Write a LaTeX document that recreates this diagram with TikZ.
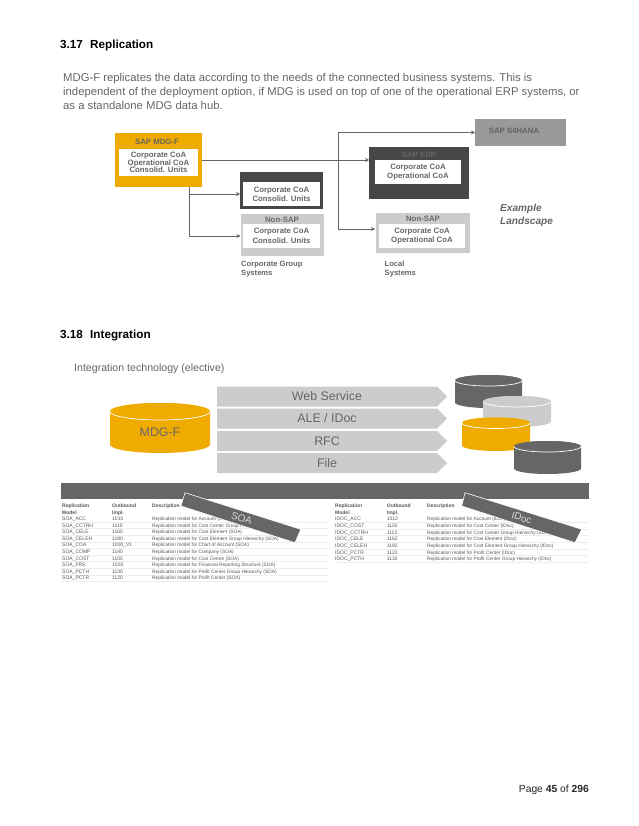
\documentclass[tikz,border=0pt]{standalone}
\usepackage{fontspec}
\setmainfont{Liberation Sans}
\usetikzlibrary{arrows.meta}
\definecolor{sapo}{HTML}{F0AB00}
\definecolor{txt}{HTML}{666666}
\definecolor{dk}{HTML}{474747}
\definecolor{mid}{HTML}{666666}
\definecolor{lt}{HTML}{CCCCCC}
\definecolor{sf}{HTML}{999999}
\definecolor{rule}{HTML}{EDEDED}
\newcommand{\fs}[1]{\fontsize{#1}{#1}\selectfont}
\tikzset{
  outer/.style={inner sep=0pt,outer sep=0pt},
  inbox/.style={fill=white,inner sep=0pt,outer sep=0pt,text=txt,align=center,font=\bfseries\fs{7.8}},
  boxlabel/.style={inner sep=0pt,font=\bfseries\fs{7.8},text=txt},
  note/.style={inner sep=0pt,anchor=north west,align=left,font=\bfseries\fs{7.6},text=txt},
  conn/.style={draw=txt,line width=0.9pt,-{Stealth[length=4pt,width=4pt]}},
  chev/.style={fill=lt},
  chevlabel/.style={inner sep=0pt,text=txt,font=\fs{12.4}},
  tcell/.style={inner sep=0pt,anchor=base west,text=txt!85!black,font=\fs{5}},
  dcell/.style={tcell,font=\fs{4.8}},
  thead/.style={inner sep=0pt,anchor=base west,text=txt!85!black,font=\bfseries\fs{5}},
  band/.style={fill=mid,draw=white,line width=0.6pt},
  bandlabel/.style={inner sep=0pt,text=white!85!black,font=\fs{10},rotate=-17.6},
  head/.style={inner sep=0pt,anchor=base west,font=\bfseries\fs{11.7},text=black},
  para/.style={inner sep=0pt,anchor=base west,font=\fs{11.3},text=txt},
}
\newcommand{\cylinder}[8]{% name x1 x2 top bottom eh colour text
  \pgfmathsetmacro{\rx}{(#3-#2)/2}
  \pgfmathsetmacro{\ry}{#6/2}
  \pgfmathsetmacro{\cx}{(#2+#3)/2}
  \pgfmathsetmacro{\ty}{#4+#6/2}
  \pgfmathsetmacro{\by}{#5-#6/2}
  \fill[#7] (#2,\ty) arc[start angle=180,end angle=360,x radius=\rx,y radius=\ry] -- (#3,\by) arc[start angle=360,end angle=180,x radius=\rx,y radius=-\ry] -- cycle;
  \fill[#7] (\cx,\ty) ellipse[x radius=\rx,y radius=\ry];
  \draw[white,line width=0.7pt] (#2,\ty) arc[start angle=180,end angle=360,x radius=\rx,y radius=-\ry];
  \node[inner sep=0pt,text=txt,font=\fs{12.4}] (#1) at (\cx,{(\ty+#5)/2}) {#8};
}
\begin{document}
\begin{tikzpicture}[x=1pt,y=-1pt]
\useasboundingbox (0,0) rectangle (638,826);
\fill[white] (0,0) rectangle (638,826);

\node[head] (h1) at (60,48.7) {3.17\hspace{4pt} Replication};
\node[para] (p1) at (63,82) {MDG-F replicates the data according to the needs of the connected business systems. This is};
\node[para] (p2) at (63,96) {independent of the deployment option, if MDG is used on top of one of the operational ERP systems, or};
\node[para] (p3) at (63,110) {as a standalone MDG data hub.};

% replication boxes
\node[outer,fill=sapo,minimum width=87pt,minimum height=54pt] (mdg) at (158.5,160) {};
\node[boxlabel] (mdgl) at (157,142) {SAP MDG-F};
\node[inbox,minimum width=79pt,minimum height=27pt] (mdgi) at (158.5,162.5) {Corporate CoA\\[-0.5pt]Operational CoA\\[-0.5pt]Consolid. Units};

\node[outer,fill=dk,minimum width=83pt,minimum height=37pt] (gd) at (281.5,190.5) {};
\node[inbox,minimum width=77pt,minimum height=24pt] (gdi) at (281.5,194) {Corporate CoA\\[1.2pt]Consolid. Units};

\node[outer,fill=lt,minimum width=83pt,minimum height=42pt] (ns) at (282.5,235) {};
\node[boxlabel] (nsl) at (282,220) {Non-SAP};
\node[inbox,minimum width=77pt,minimum height=24pt] (nsi) at (281.5,236) {Corporate CoA\\[2pt]Consolid. Units};

\node[outer,fill=dk,minimum width=100pt,minimum height=52pt] (erp) at (419,173) {};
\node[boxlabel,text=mid] (erpl) at (419,155) {SAP ERP};
\node[inbox,minimum width=86pt,minimum height=24pt] (erpi) at (418,172) {Corporate CoA\\[1.2pt]Operational CoA};

\node[outer,fill=lt,minimum width=94pt,minimum height=40pt] (nr) at (423,233) {};
\node[boxlabel] (nrl) at (423,219) {Non-SAP};
\node[inbox,minimum width=86pt,minimum height=24pt] (nri) at (422,236) {Corporate CoA\\[2pt]Operational CoA};

\node[outer,fill=sf,minimum width=91pt,minimum height=27pt] (s4) at (520.5,132.5) {};
\node[boxlabel,text=txt!95!black] (s4l) at (514,131) {SAP S4HANA};

\node[note] (n1) at (241,261) {Corporate Group\\[1.6pt]Systems};
\node[note] (n2) at (384.5,261) {Local\\[1.6pt]Systems};
\node[note,font=\bfseries\itshape\fs{10.1},align=left] (ex) at (500,204) {Example\\[3pt]Landscape};

% connectors
\coordinate (tr) at (338,160);
\coordinate (mb) at (189,187);
\coordinate (gdp) at (240,194);
\coordinate (nsp) at (240.5,236);
\coordinate (nrp) at (375,229);
\draw[conn] (mdg.east) -- (mdg.east -| erp.west);
\draw[conn] (tr) |- (s4.west);
\draw[conn] (tr) |- (nrp);
\draw[conn] (mb) |- (gdp);
\draw[conn] (mb) |- (nsp);

% section 3.18
\node[head] (h2) at (60,338.7) {3.18\hspace{4pt} Integration};
\node[para,font=\fs{10.6}] (p4) at (74,371) {Integration technology (elective)};

\cylinder{mdgf}{110}{210}{403}{453}{17}{sapo}{MDG-F}

\foreach \nm/\ya/\yb/\lab in {ws/386.5/406.5/{Web Service},ale/408.5/428.5/{ALE / IDoc},rfc/431/451/{RFC},fil/453/473/{File}}{
  \fill[chev] (217,\ya) -- (437,\ya) -- (447,{(\ya+\yb)/2}) -- (437,\yb) -- (217,\yb) -- cycle;
  \node[chevlabel] (\nm) at (327,{(\ya+\yb)/2}) {\lab};
}

\cylinder{c1}{455}{522}{375}{408}{11}{mid}{}
\cylinder{c2}{483}{551}{396}{427}{11}{lt}{}
\cylinder{c3}{462}{530}{417.5}{451}{11}{sapo}{}
\cylinder{c4}{514}{581}{441}{474}{11}{mid}{}

% table band
\fill[mid] (61,483) rectangle (589,498.5);

% left table
\node[thead] (la) at (62,507.7) {Replication};
\node[thead] (lb) at (62,514.1) {Model};
\node[thead] (lc) at (112,507.7) {Outbound};
\node[thead] (ld) at (112,514.1) {Impl.};
\node[thead] (le) at (152,507.7) {Description};
\foreach \a/\b/\c [count=\i] in {
 SOA\_ACC/1010/Account (SOA),
 SOA\_CCTRH/1110/Cost Center Group Hierarchy (SOA),
 SOA\_CELE/1160/Cost Element (SOA),
 SOA\_CELEH/1190/Cost Element Group Hierarchy (SOA),
 SOA\_COA/1000\_V1/Chart of Account (SOA),
 SOA\_COMP/1140/Company (SOA),
 SOA\_COST/1100/Cost Centre (SOA),
 SOA\_FRS/1020/Financial Reporting Structure (SOA),
 SOA\_PCTH/1130/Profit Center Group Hierarchy (SOA),
 SOA\_PCTR/1120/Profit Center (SOA)}{
  \pgfmathsetmacro{\yy}{520.5+(\i-1)*6.6}
  \draw[rule,line width=0.3pt] (61,\yy+1.5) -- (328,\yy+1.5);
  \node[tcell] (la\i) at (62,\yy) {\a};
  \node[tcell] (lb\i) at (112,\yy) {\b};
  \node[dcell] (lc\i) at (152,\yy) {Replication model for \c};
}

% right table
\node[thead] (ra) at (335,507.7) {Replication};
\node[thead] (rb) at (335,514.1) {Model};
\node[thead] (rc) at (386.7,507.7) {Outbound};
\node[thead] (rd) at (386.7,514.1) {Impl.};
\node[thead] (re) at (427,507.7) {Description};
\foreach \a/\b/\c [count=\i] in {
 IDOC\_ACC/1012/Account (IDoc),
 IDOC\_COST/1102/Cost Center (IDoc),
 IDOC\_CCTRH/1112/Cost Center Group Hierarchy (IDoc),
 IDOC\_CELE/1162/Cost Element (IDoc),
 IDOC\_CELEH/1192/Cost Element Group Hierarchy (IDoc),
 IDOC\_PCTR/1122/Profit Center (IDoc),
 IDOC\_PCTH/1132/Profit Center Group Hierarchy (IDoc)}{
  \pgfmathsetmacro{\yy}{520.8+(\i-1)*6.65}
  \draw[rule,line width=0.3pt] (334,\yy+1.5) -- (589,\yy+1.5);
  \node[tcell] (ra\i) at (335,\yy) {\a};
  \node[tcell] (rb\i) at (386.7,\yy) {\b};
  \node[dcell] (rc\i) at (427,\yy) {Replication model for \c};
}

% diagonal bands
\path[band] (185,492.7) -- (300.7,529.3) -- (295,542.7) -- (181,506) -- cycle;
\node[bandlabel] (soa) at (241.7,518) {SOA};
\path[band] (465,492.7) -- (581.7,529.3) -- (575,542.7) -- (461.7,506) -- cycle;
\node[bandlabel] (idoc) at (521.7,518) {IDoc};

\node[inner sep=0pt,anchor=base east,font=\fs{10.3},text=black!85] (pg) at (589,792) {Page \textbf{45} of \textbf{296}};
\end{tikzpicture}
\end{document}
